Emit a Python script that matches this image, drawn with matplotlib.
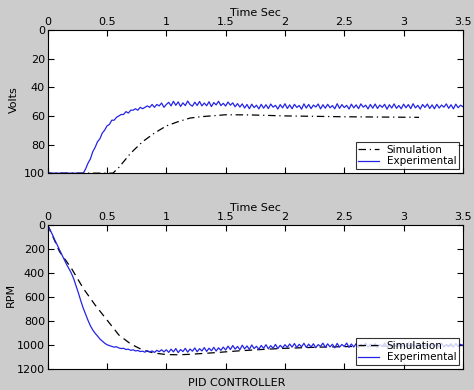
import numpy as np
import matplotlib
matplotlib.use("Agg")
import matplotlib.pyplot as plt

# ---------------- data ----------------
# Upper panel: Volts
volts_exp_head_t = [0.0, 0.004, 0.28]
volts_exp_head_v = [0, 100, 100]
volts_exp_v = [
    100, 97, 93, 90, 85, 82, 78, 76, 72, 70,
    67, 66, 63, 63, 61, 60, 59, 59, 57, 58,
    56, 56, 55, 56, 54, 55, 54, 53, 54, 52,
    54, 52, 53, 51, 54, 52,
    50.5, 53, 49.8, 52.6, 50.2, 53.4, 50.9, 52.8, 49.6, 52.1, 53.2, 50.4, 52.7, 49.9, 53,
    51, 52.9, 50.1, 53.5, 50.7, 52.3, 49.8, 52.8, 51.2, 53.1, 50.3, 52.5, 50.9, 53.6, 51.4,
    53.8, 51.6, 54.5, 52.0, 55.0, 51.8, 54.2, 52.5, 55.1, 51.9, 54.6, 52.2, 54.9, 51.7, 53.9, 52.6, 55.2, 52.1, 54.4, 51.5,
    54.8, 52.3, 55.0, 51.9, 54.1, 52.7, 55.3, 51.6, 54.5, 52.0, 54.9, 52.4, 53.8, 51.7, 55.1, 52.2, 54.6, 51.9, 54.3, 52.8,
    55.0, 51.5, 54.7, 52.1, 54.2, 52.6, 55.2, 51.8, 54.4, 52.3, 54.9, 51.6, 53.9, 52.5, 55.1, 52.0, 54.6, 51.7, 54.8, 52.4,
    54.0, 51.9, 55.3, 52.2, 54.5, 51.6, 54.7, 52.7, 55.0, 51.8, 54.3, 52.1, 54.9, 51.5, 54.4, 52.6, 55.2, 52.0, 54.1, 51.7,
    54.8, 52.3, 55.0, 51.9, 54.5, 52.4, 53.9, 51.6, 54.7, 52.2, 55.1, 51.8, 54.3, 52.5, 53.6,
]
volts_exp_t0, volts_exp_t1 = 0.30, 3.50

volts_sim_t = [0.0, 0.002, 0.55, 0.6, 0.7, 0.8, 0.9, 1.0, 1.1, 1.2, 1.3, 1.5, 1.7, 2.0, 2.5, 3.13]
volts_sim_v = [52, 100, 100, 96, 86, 78, 72, 67, 64, 61.5, 60.5, 59.2, 59.3, 60.0, 60.6, 61.0]

# Lower panel: RPM
rpm_exp_v = [
    0, 40, 80, 125, 165, 208, 248, 290, 330, 365,
    403, 450, 510, 570, 635, 694, 745, 795, 840, 875,
    903, 925, 950, 968, 985, 998, 1005, 1012, 1018, 1015,
    1025, 1030, 1028, 1038, 1035, 1045, 1040, 1050, 1046, 1055,
    1052, 1060, 1048, 1058, 1050, 1062, 1045, 1056, 1040, 1058,
    1040, 1062, 1035, 1058, 1030, 1064, 1038, 1055, 1028, 1060, 1034, 1052, 1025, 1057, 1031,
    1050, 1022, 1054, 1027, 1048, 1020, 1051, 1024, 1045, 1018,
    1042, 1010, 1038, 1005, 1035, 1012, 1040, 1002, 1033, 1008, 1037, 1000, 1030, 1011, 1036,
    1004, 1028, 998, 1032, 1006, 1027, 995, 1030, 1003, 1024, 998,
    1020, 992, 1018, 988, 1022, 995, 1015, 986, 1021, 993, 1017, 990, 1023, 997, 1012, 985, 1019, 991, 1016, 994,
    1024, 987, 1018, 996, 1013, 984, 1020, 992, 1017, 989, 1022, 995, 1011, 986, 1019, 993, 1015, 988, 1021, 997,
    1014, 985, 1018, 991, 1023, 994, 1012, 987, 1020, 996, 1016, 983, 1019, 992, 1013, 990, 1022, 995, 1010, 986,
    1018, 993, 1015, 989, 1021, 984, 1017, 996, 1012, 990, 1019, 988, 1014, 995, 1005,
]
rpm_exp_t0, rpm_exp_t1 = 0.0, 3.50

rpm_sim_t = [0, 0.1, 0.2, 0.3, 0.4, 0.5, 0.6, 0.7, 0.8, 0.9, 1.0, 1.1, 1.2, 1.4, 1.6, 1.8, 2.0, 2.3, 2.6, 3.0, 3.5]
rpm_sim_v = [0, 222, 361, 528, 667, 792, 917, 992, 1042, 1068, 1080, 1082, 1078, 1065, 1050, 1038, 1028, 1018, 1012, 1007, 1004]

x_ticks = [0, 0.5, 1, 1.5, 2, 2.5, 3, 3.5]
x_tick_labels = ["0", "0.5", "1", "1.5", "2", "2.5", "3", "3.5"]
volts_ticks = [0, 20, 40, 60, 80, 100]
rpm_ticks = [0, 200, 400, 600, 800, 1000, 1200]
legend_labels = ["Simulation", "Experimental"]

# ---------------- drawing ----------------
BLUE = "#2424e6"
plt.rcParams["font.family"] = ["DejaVu Sans"]
fig = plt.figure(figsize=(4.74, 3.90), dpi=100, facecolor="#cccccc")

ax1 = fig.add_axes([0.1006, 0.556, 0.876, 0.367])
ax2 = fig.add_axes([0.1006, 0.054, 0.876, 0.369])

t_v = np.concatenate([volts_exp_head_t, np.linspace(volts_exp_t0, volts_exp_t1, len(volts_exp_v))])
v_v = np.concatenate([volts_exp_head_v, volts_exp_v])
t_r = np.linspace(rpm_exp_t0, rpm_exp_t1, len(rpm_exp_v))

ax1.plot(volts_sim_t, volts_sim_v, color="black", ls=(0, (6, 3, 1, 3)), lw=0.9, label=legend_labels[0])
ax1.plot(t_v, v_v, color=BLUE, lw=0.9, label=legend_labels[1])
ax2.plot(rpm_sim_t, rpm_sim_v, color="black", ls=(0, (6, 4)), lw=0.9, label=legend_labels[0])
ax2.plot(t_r, rpm_exp_v, color=BLUE, lw=0.9, label=legend_labels[1])

for ax, yt, ylim in [(ax1, volts_ticks, (100, 0)), (ax2, rpm_ticks, (1200, 0))]:
    ax.set_facecolor("white")
    ax.set_xlim(0, 3.5)
    ax.set_ylim(*ylim)
    ax.set_xticks(x_ticks)
    ax.set_xticklabels(x_tick_labels)
    ax.set_yticks(yt)
    ax.set_yticklabels([str(v) for v in yt])
    ax.tick_params(direction="in", top=True, bottom=True, left=True, right=True,
                   labeltop=True, labelbottom=False, labelsize=8, length=4, width=0.8, pad=2)
    ax.xaxis.set_label_position("top")
    ax.set_xlabel("Time Sec", fontsize=8, labelpad=1)
    for s in ax.spines.values():
        s.set_linewidth(0.8)
    leg = ax.legend(loc="lower right", fontsize=7.5, frameon=True, fancybox=False,
                    edgecolor="black", borderaxespad=0.4, handlelength=2.0,
                    borderpad=0.25, labelspacing=0.15, handletextpad=0.7)
    leg.get_frame().set_linewidth(0.8)

fig.text(0.030, 0.744, "Volts", rotation=90, ha="center", va="center", fontsize=8)
fig.text(0.022, 0.244, "RPM", rotation=90, ha="center", va="center", fontsize=8)
fig.text(0.5, 0.018, "PID CONTROLLER", ha="center", va="center", fontsize=8)

fig.savefig("out.png", dpi=100, facecolor=fig.get_facecolor())
